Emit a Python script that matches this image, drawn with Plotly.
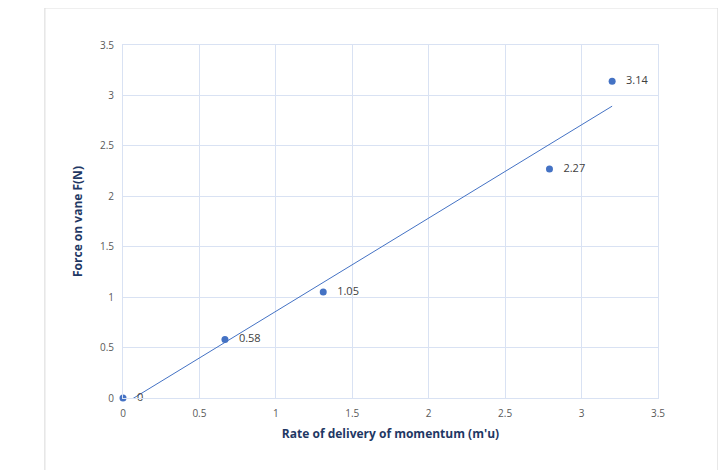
import numpy as np
import plotly.graph_objects as go

x_vals = [0, 0.667, 1.31, 2.79, 3.2]
y_vals = [0, 0.58, 1.05, 2.27, 3.14]
labels = ["0", "0.58", "1.05", "2.27", "3.14"]

slope, intercept = np.polyfit(x_vals, y_vals, 1)
tx = [0, max(x_vals)]
ty = [intercept + slope * v for v in tx]

fig = go.Figure()
fig.add_trace(go.Scatter(x=tx, y=ty, mode="lines", line=dict(color="#4472C4", width=1), hoverinfo="skip"))
fig.add_trace(go.Scatter(x=x_vals, y=y_vals, mode="markers+text", text=["   " + t for t in labels],
                         textposition="middle right",
                         textfont=dict(size=11, color="#404040", family="Open Sans"),
                         marker=dict(color="#4472C4", size=7), cliponaxis=False))
fig.update_layout(
    width=726, height=470, showlegend=False,
    margin=dict(l=115, r=76, t=37, b=80),
    paper_bgcolor="white", plot_bgcolor="white",
    font=dict(family="Open Sans", size=10, color="#595959"),
    xaxis=dict(range=[0, 3.5], dtick=0.5, showgrid=True, gridcolor="#D9E2F3", showline=True, linecolor="#D9E2F3",
               zeroline=False, ticks="outside", ticklen=6, tickcolor="rgba(0,0,0,0)", tickfont=dict(size=10), mirror=True,
               title=dict(text="<b>Rate of delivery of momentum (m'u)</b>", font=dict(size=12, color="#1F3864"), standoff=10)),
    yaxis=dict(range=[0, 3.5], dtick=0.5, showgrid=True, gridcolor="#D9E2F3", showline=True, linecolor="#D9E2F3",
               zeroline=False, ticks="outside", ticklen=6, tickcolor="rgba(0,0,0,0)", tickfont=dict(size=10), mirror=True,
               title=dict(text="<b>Force on vane F(N)</b>", font=dict(size=12, color="#1F3864"), standoff=14)),
    shapes=[dict(type="rect", xref="paper", yref="paper", x0=-0.146, x1=1.112, y0=-0.25, y1=1.105,
                 line=dict(color="#D9D9D9", width=1))],
)
fig.write_html("out.html")
